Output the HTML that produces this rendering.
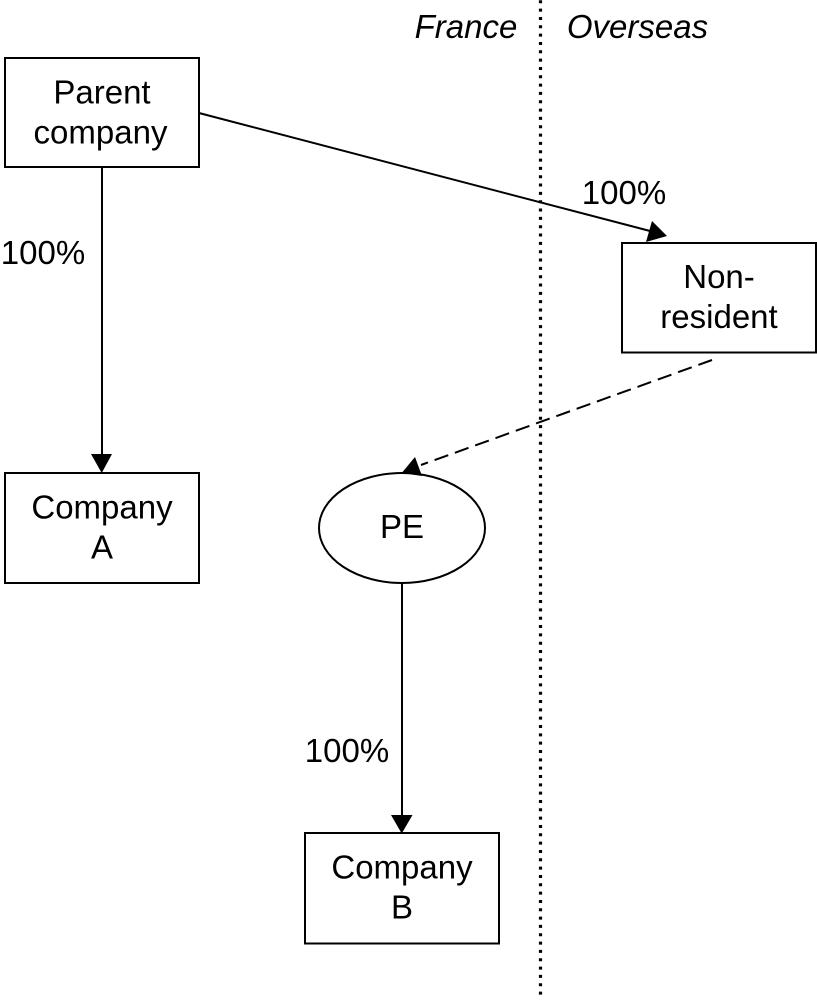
<!DOCTYPE html>
<html>
<head>
<meta charset="utf-8">
<style>
html,body{margin:0;padding:0;background:#fff;}
svg{display:block;}
text{font-family:"Liberation Sans",Arial,sans-serif;font-size:33px;fill:#000;text-anchor:middle;}
</style>
</head>
<body>
<svg width="817" height="1000" viewBox="0 0 817 1000" xmlns="http://www.w3.org/2000/svg">
<rect x="5" y="58" width="194" height="109" fill="#fff" stroke="#000" stroke-width="2"/>
<rect x="622" y="243" width="194" height="109.5" fill="#fff" stroke="#000" stroke-width="2"/>
<rect x="5" y="473" width="194" height="110" fill="#fff" stroke="#000" stroke-width="2"/>
<rect x="305" y="833" width="194" height="110.5" fill="#fff" stroke="#000" stroke-width="2"/>
<ellipse cx="402" cy="528" rx="83" ry="55" fill="#fff" stroke="#000" stroke-width="2"/>
<line x1="540.5" y1="0.3" x2="540.5" y2="995" stroke="#000" stroke-width="3.2" stroke-dasharray="3 5.33"/>
<line x1="102" y1="167" x2="102" y2="455" stroke="#000" stroke-width="2"/>
<polygon points="91,454 112,454 101.7,473" fill="#000"/>
<line x1="199" y1="113" x2="650" y2="231" stroke="#000" stroke-width="2"/>
<polygon points="652,221 646,242 667,236" fill="#000"/>
<line x1="712" y1="360" x2="421" y2="465" stroke="#000" stroke-width="2" stroke-dasharray="14.5 7.07"/>
<polygon points="415,457 422,476 401.7,473" fill="#000"/>
<line x1="402" y1="583" x2="402" y2="816" stroke="#000" stroke-width="2"/>
<polygon points="391,815 412.5,815 401.7,833.5" fill="#000"/>
<text x="466" y="38" font-style="italic">France</text>
<text x="637.5" y="38" font-style="italic">Overseas</text>
<text x="102" y="103.5">Parent</text>
<text x="100.5" y="143.5">company</text>
<text x="719" y="288">Non-</text>
<text x="719" y="328">resident</text>
<text x="102" y="518.5">Company</text>
<text x="102" y="558.5">A</text>
<text x="402" y="538">PE</text>
<text x="402" y="878.5">Company</text>
<text x="402" y="918.5">B</text>
<text x="43" y="264">100%</text>
<text x="624" y="204">100%</text>
<text x="347" y="762">100%</text>
</svg>
</body>
</html>
